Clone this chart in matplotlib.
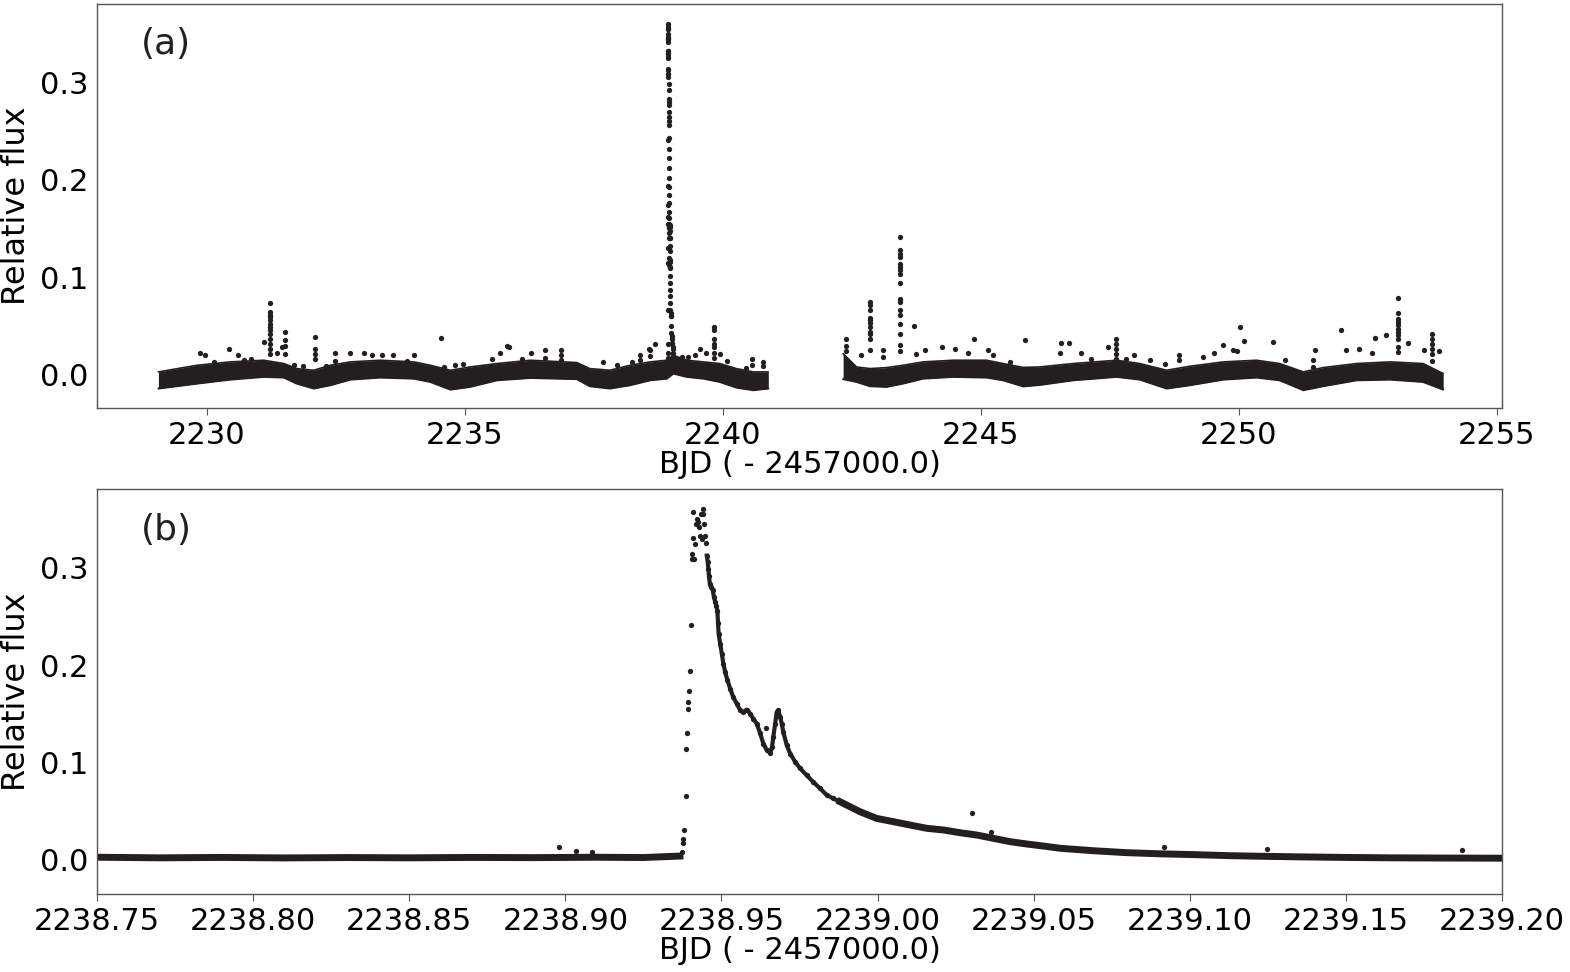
import numpy as np
import matplotlib
matplotlib.use("Agg")
import matplotlib.pyplot as plt

DOT = "#231f20"

# --- panel (a): full light curve ---
# smoothed band (lower / upper edge of the dense cloud), first orbit
seg1_t = [2229.06, 2229.81, 2230.45, 2231.10, 2231.49, 2231.74, 2232.07, 2232.39,
          2232.78, 2233.36, 2234.01, 2234.33, 2234.72, 2235.10, 2235.62, 2236.27,
          2237.17, 2237.42, 2237.81, 2238.20, 2238.59, 2238.91, 2239.04, 2239.30,
          2239.62, 2239.94, 2240.26, 2240.59, 2240.88]
seg1_lo = [-0.0147, -0.0096, -0.0055, -0.0027, -0.0034, -0.0096, -0.0147, -0.0113,
           -0.0055, -0.0034, -0.0045, -0.0079, -0.0158, -0.0130, -0.0062, -0.0038,
           -0.0050, -0.0123, -0.0147, -0.0113, -0.0062, -0.0045, 0.0007, -0.0027,
           -0.0045, -0.0079, -0.0137, -0.0164, -0.0147]
seg1_hi = [0.0024, 0.0092, 0.0127, 0.0144, 0.0110, 0.0058, 0.0041, 0.0092,
           0.0127, 0.0144, 0.0127, 0.0092, 0.0041, 0.0075, 0.0110, 0.0144,
           0.0120, 0.0058, 0.0041, 0.0092, 0.0127, 0.0144, 0.0195, 0.0144,
           0.0127, 0.0110, 0.0058, 0.0024, 0.0024]

# second orbit
seg2_t = [2242.33, 2242.59, 2242.85, 2243.17, 2243.49, 2243.88, 2244.46, 2245.11,
          2245.43, 2245.82, 2246.14, 2246.79, 2247.63, 2248.08, 2248.60, 2249.05,
          2249.70, 2250.34, 2250.79, 2251.25, 2251.63, 2252.28, 2252.93, 2253.57,
          2253.96]
seg2_lo = [-0.0050, -0.0079, -0.0123, -0.0130, -0.0096, -0.0045, -0.0027, -0.0034,
           -0.0062, -0.0125, -0.0110, -0.0062, -0.0027, -0.0055, -0.0147, -0.0113,
           -0.0055, -0.0034, -0.0062, -0.0164, -0.0123, -0.0062, -0.0055, -0.0079,
           -0.0158]
seg2_hi = [0.0212, 0.0075, 0.0058, 0.0068, 0.0092, 0.0127, 0.0144, 0.0144,
           0.0110, 0.0070, 0.0075, 0.0110, 0.0144, 0.0110, 0.0041, 0.0082,
           0.0127, 0.0144, 0.0110, 0.0024, 0.0068, 0.0110, 0.0127, 0.0110,
           0.0007]

# isolated points and small flares sticking out of the band
spike_t = [2229.87, 2229.97, 2230.13, 2230.42, 2230.61, 2230.71, 2230.86, 2231.10,
           2231.23, 2231.23, 2231.23, 2231.23, 2231.23, 2231.23, 2231.23, 2231.23,
           2231.23, 2231.23, 2231.23, 2231.23, 2231.23,
           2231.36, 2231.46, 2231.52, 2231.52, 2231.52, 2231.52, 2231.68, 2231.87,
           2232.10, 2232.10, 2232.10, 2232.10,
           2232.30, 2232.48, 2232.48, 2232.78, 2233.04, 2233.20, 2233.39, 2233.61,
           2233.88, 2234.01, 2234.54, 2234.59, 2234.81, 2234.97,
           2235.52, 2235.68, 2235.81, 2235.86, 2236.10, 2236.29, 2236.55, 2236.55,
           2236.87, 2236.87, 2236.87,
           2237.35, 2237.68, 2237.94, 2238.23, 2238.40, 2238.40, 2238.59, 2238.59,
           2238.68, 2238.56, 2239.20, 2239.33, 2239.46, 2239.55, 2239.68,
           2239.83, 2239.83, 2239.83, 2239.83, 2239.83, 2239.83, 2239.83,
           2239.94, 2240.07, 2240.45, 2240.56, 2240.56, 2240.77, 2240.77,
           2242.38, 2242.38, 2242.38,
           2242.85, 2242.85, 2242.85, 2242.85, 2242.85, 2242.85, 2242.85, 2242.85,
           2242.85, 2242.85, 2242.85,
           2242.68, 2243.10, 2243.10,
           2243.43, 2243.43, 2243.43, 2243.43, 2243.43, 2243.43, 2243.43, 2243.43,
           2243.43, 2243.43, 2243.43, 2243.43, 2243.43, 2243.43, 2243.43, 2243.43,
           2243.43, 2243.43,
           2243.71, 2243.74, 2243.92, 2244.25, 2244.49, 2244.75, 2244.87, 2245.14,
           2245.24, 2245.56, 2245.85,
           2246.53, 2246.56, 2246.71, 2246.94, 2247.13, 2247.47,
           2247.61, 2247.61, 2247.61, 2247.61, 2247.61,
           2247.81, 2247.96, 2248.27, 2248.57, 2248.84, 2248.84,
           2249.30, 2249.51, 2249.69, 2249.88, 2249.96, 2250.02, 2250.10, 2250.67,
           2250.90, 2251.43, 2251.43, 2251.47, 2251.98, 2252.07, 2252.32, 2252.58,
           2252.63, 2252.85,
           2253.09, 2253.09, 2253.09, 2253.09, 2253.09, 2253.09, 2253.09, 2253.09,
           2253.09, 2253.09, 2253.09,
           2253.27, 2253.59,
           2253.74, 2253.74, 2253.74, 2253.74, 2253.74, 2253.74, 2253.88]
spike_f = [0.022, 0.020, 0.013, 0.026, 0.020, 0.015, 0.016, 0.033,
           0.0733, 0.064, 0.0613, 0.0589, 0.0555, 0.0521, 0.0486, 0.0452,
           0.0411, 0.0367, 0.0315, 0.0264, 0.0212,
           0.022, 0.028, 0.0435, 0.0357, 0.0288, 0.021, 0.010, 0.008,
           0.038, 0.026, 0.021, 0.016,
           0.008, 0.022, 0.014, 0.022, 0.022, 0.020, 0.020, 0.020,
           0.014, 0.020, 0.0377, 0.007, 0.009, 0.011,
           0.016, 0.022, 0.0288, 0.0285, 0.016, 0.022, 0.0247, 0.017,
           0.0253, 0.020, 0.015,
           0.005, 0.0127, 0.009, 0.0127, 0.0195, 0.015, 0.0247, 0.019,
           0.031, 0.026, 0.018, 0.018, 0.020, 0.026, 0.022,
           0.0486, 0.0452, 0.0367, 0.031, 0.028, 0.022, 0.017,
           0.021, 0.014, 0.006, 0.016, 0.010, 0.013, 0.008,
           0.0367, 0.029, 0.024,
           0.0743, 0.0709, 0.0658, 0.0582, 0.0555, 0.0528, 0.0486, 0.0435,
           0.0411, 0.0367, 0.0247,
           0.0195, 0.0247, 0.018,
           0.141, 0.1274, 0.1240, 0.1206, 0.1138, 0.1103, 0.1069, 0.1035,
           0.0938, 0.0778, 0.0761, 0.0743, 0.0658, 0.0606, 0.0521, 0.0418,
           0.030, 0.024,
           0.050, 0.021, 0.0247, 0.028, 0.026, 0.022, 0.0367, 0.0247,
           0.020, 0.0127, 0.035,
           0.022, 0.0322, 0.0322, 0.022, 0.016, 0.028,
           0.0367, 0.031, 0.026, 0.021, 0.016,
           0.016, 0.020, 0.015, 0.011, 0.020, 0.015,
           0.018, 0.022, 0.030, 0.0247, 0.024, 0.0486, 0.0339, 0.0336,
           0.015, 0.015, 0.007, 0.0253, 0.0452, 0.025, 0.026, 0.022,
           0.0377, 0.040,
           0.0788, 0.063, 0.0572, 0.0538, 0.0504, 0.047, 0.0435, 0.040,
           0.0367, 0.028, 0.023,
           0.0322, 0.0247,
           0.0418, 0.036, 0.031, 0.026, 0.021, 0.014, 0.024]

# --- panel (b): the big flare ---
pre_t = [2238.750, 2238.770, 2238.790, 2238.810, 2238.830, 2238.850, 2238.870,
         2238.890, 2238.910, 2238.925, 2238.9367]
pre_f = [0.0028, 0.0022, 0.0026, 0.0021, 0.0025, 0.0022, 0.0026,
         0.0024, 0.0028, 0.0025, 0.0040]

rise_t = [2238.9373, 2238.9376, 2238.9378, 2238.9381, 2238.9386, 2238.9388, 2238.9389,
          2238.9392, 2238.9394, 2238.9397, 2238.9400, 2238.9403, 2238.9405, 2238.9406,
          2238.9408, 2238.9410, 2238.9412, 2238.9415, 2238.9419, 2238.9423, 2238.9426,
          2238.9429, 2238.9431, 2238.9435, 2238.9437, 2238.9440, 2238.9442, 2238.9445,
          2238.9447, 2238.9451]
rise_f = [0.0085, 0.017, 0.022, 0.031, 0.0656, 0.114, 0.130,
          0.155, 0.162, 0.174, 0.194, 0.241, 0.314, 0.309,
          0.357, 0.331, 0.309, 0.325, 0.345, 0.350, 0.347,
          0.342, 0.333, 0.355, 0.330, 0.360, 0.355, 0.345,
          0.333, 0.326]

decay_t = [2238.9453, 2238.9456, 2238.9458, 2238.9460, 2238.9463, 2238.9467, 2238.9472,
           2238.9476, 2238.9480, 2238.9484, 2238.9487, 2238.9489, 2238.9491, 2238.9496,
           2238.9501, 2238.9506, 2238.9512, 2238.9519, 2238.9528, 2238.9538, 2238.9549,
           2238.9560, 2238.9570, 2238.9581, 2238.9592, 2238.9602, 2238.9613, 2238.9624,
           2238.9634, 2238.9645, 2238.9656, 2238.9662, 2238.9666, 2238.9672, 2238.9677,
           2238.9682, 2238.9688, 2238.9693, 2238.9698, 2238.9709, 2238.9720, 2238.9736,
           2238.9752, 2238.9773, 2238.9794, 2238.9816, 2238.9837, 2238.9858, 2238.9880]
decay_f = [0.3126, 0.306, 0.299, 0.292, 0.283, 0.280, 0.277,
           0.270, 0.265, 0.261, 0.256, 0.243, 0.232, 0.222,
           0.212, 0.2016, 0.193, 0.1845, 0.176, 0.167, 0.1606,
           0.1537, 0.152, 0.1544, 0.1504, 0.145, 0.140, 0.130,
           0.1196, 0.1128, 0.110, 0.116, 0.1264, 0.140, 0.152,
           0.1537, 0.147, 0.140, 0.1315, 0.118, 0.1093, 0.1008,
           0.094, 0.087, 0.080, 0.0735, 0.0666, 0.0632, 0.0598]

tail_t = [2238.9880, 2238.9944, 2238.9997, 2239.0051, 2239.0104, 2239.0158, 2239.0211,
          2239.0264, 2239.0318, 2239.0371, 2239.0424, 2239.0478, 2239.0531, 2239.0585,
          2239.0691, 2239.0798, 2239.0905, 2239.1012, 2239.1118, 2239.1225, 2239.1350,
          2239.1500, 2239.1650, 2239.1800, 2239.2000]
tail_f = [0.0598, 0.0495, 0.0427, 0.0393, 0.0359, 0.0325, 0.0308,
          0.028, 0.0256, 0.0222, 0.0188, 0.0164, 0.0143, 0.012,
          0.0095, 0.0075, 0.0063, 0.0055, 0.0045, 0.0038, 0.0032,
          0.0026, 0.0022, 0.0020, 0.0018]

odd_t = [2238.8979, 2238.9034, 2238.9085, 2238.9643, 2239.0302, 2239.0363,
         2239.0918, 2239.1247, 2239.1873]
odd_f = [0.0137, 0.0096, 0.0085, 0.136, 0.0485, 0.029,
         0.0136, 0.011, 0.010]

xticks_a = [2230, 2235, 2240, 2245, 2250, 2255]
xticks_b = [2238.75, 2238.80, 2238.85, 2238.90, 2238.95, 2239.00, 2239.05,
            2239.10, 2239.15, 2239.20]
yticks = [0.0, 0.1, 0.2, 0.3]

plt.rcParams["font.family"] = "DejaVu Sans"

fig = plt.figure(figsize=(15.7, 9.72), dpi=100)
ax_a = fig.add_axes([0.0618, 0.580, 0.8949, 0.4159])
ax_b = fig.add_axes([0.0618, 0.0802, 0.8949, 0.4167])

ms = 3.8

# panel (a)
for t, lo, hi in [(seg1_t, seg1_lo, seg1_hi), (seg2_t, seg2_lo, seg2_hi)]:
    ax_a.fill_between(t, lo, hi, color=DOT, lw=0)
    ax_a.plot(t, lo, color=DOT, lw=1.5, solid_capstyle="round")
    ax_a.plot(t, hi, color=DOT, lw=1.2, solid_capstyle="round")
ax_a.plot(spike_t, spike_f, "o", color=DOT, ms=ms, mew=0)
flare_t = rise_t + decay_t + tail_t
flare_f = rise_f + decay_f + tail_f
ax_a.plot(flare_t, flare_f, "o", color=DOT, ms=ms, mew=0)

# panel (b)
ax_b.plot(pre_t, pre_f, "-", color=DOT, lw=5.0)
ax_b.plot(decay_t, decay_f, "-", color=DOT, lw=3.0)
ax_b.plot(decay_t, decay_f, "o", color=DOT, ms=ms, mew=0)
ax_b.plot(tail_t, tail_f, "-", color=DOT, lw=5.0)
ax_b.plot(rise_t, rise_f, "o", color=DOT, ms=ms, mew=0)
ax_b.plot(odd_t, odd_f, "o", color=DOT, ms=ms, mew=0)

ax_a.set_xlim(2227.87, 2255.10)
ax_b.set_xlim(2238.75, 2239.20)
ax_a.set_xticks(xticks_a)
ax_b.set_xticks(xticks_b)
ax_b.set_xticklabels(["%.2f" % v for v in xticks_b])

for ax, tag in [(ax_a, "(a)"), (ax_b, "(b)")]:
    ax.set_ylim(-0.035, 0.381)
    ax.set_yticks(yticks)
    ax.set_yticklabels(["%.1f" % v for v in yticks])
    ax.tick_params(axis="x", labelsize=22, length=5, width=0.8, color="#555555",
                   pad=4)
    ax.tick_params(axis="y", labelsize=22, length=0, pad=6)
    for s in ax.spines.values():
        s.set_color("#555555")
        s.set_linewidth(1.0)
    ax.set_xlabel("BJD ( - 2457000.0)", fontsize=22, labelpad=0)
    ax.set_ylabel("Relative flux", fontsize=23, labelpad=6)
    ax.text(0.031, 0.90, tag, transform=ax.transAxes, fontsize=26,
            va="center", ha="left", color="#231f20")

fig.savefig("out.png", dpi=100)
